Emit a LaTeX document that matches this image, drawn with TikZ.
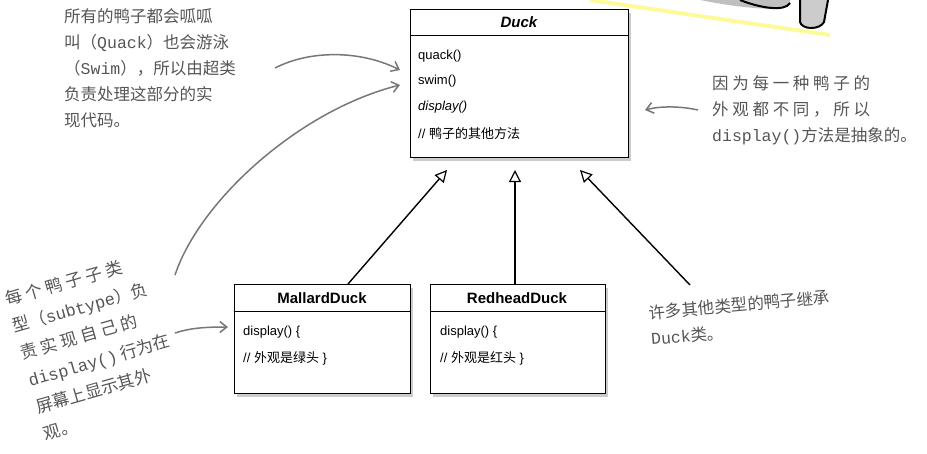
\documentclass[tikz,border=0pt]{standalone}
\usepackage{fontspec}
\setmainfont{Liberation Sans}
\newfontfamily\cjk{Noto Sans CJK SC}
\newfontfamily\mono{Liberation Mono}
\usetikzlibrary{arrows.meta,shadows}
\definecolor{note}{RGB}{85,85,85}
\tikzset{
 cls/.style={draw=black,fill=white,line width=1pt,drop shadow={shadow xshift=3pt,shadow yshift=-4pt,opacity=0.4}},
 ntxt/.style={text=note,font=\cjk\fontsize{16.5}{26}\selectfont,align=left,inner sep=0pt},
 mtxt/.style={font=\fontsize{13}{15}\selectfont,anchor=west,inner sep=0pt},
 gen/.style={line width=1.4pt,-{Triangle[open,length=12pt,width=12pt,line width=1.2pt]}},
 nar/.style={draw=note!80,line width=1.5pt,-{Straight Barb[length=7pt,width=11pt]}}
}
\begin{document}
\begin{tikzpicture}[x=1pt,y=-1pt]
\useasboundingbox (0,0) rectangle (927,453);
% sketch top right
\draw[yellow!40,line width=4pt] (590,0) -- (830,35);
\fill[gray!50] (700,0) .. controls (740,8) and (780,12) .. (790,5) -- (790,0) -- cycle;
\draw[black,line width=2pt] (740,0) .. controls (760,8) and (785,12) .. (790,3);
\fill[gray!40,draw=black,line width=2pt] (800,0) -- (800,22) .. controls (802,30) and (820,30) .. (824,22) -- (828,0);
% Duck
\draw[cls] (410,9) rectangle (628,157);
\draw[line width=1pt] (410,35) -- (628,35);
\node[font=\bfseries\itshape\fontsize{15}{17}\selectfont] (duck) at (519,22) {Duck};
\node[mtxt] (q) at (418,56) {quack()};
\node[mtxt] (s) at (418,81) {swim()};
\node[mtxt,font=\itshape\fontsize{13}{15}\selectfont] (d) at (418,107) {display()};
\node[mtxt] (o) at (418,134) {// {\cjk 鸭子的其他方法}};
\coordinate (t1) at (447,170); \coordinate (t2) at (515,170); \coordinate (t3) at (580,170);
% Mallard
\draw[cls] (234,284) rectangle (410,393);
\draw[line width=1pt] (234,311) -- (410,311);
\node[font=\bfseries\fontsize{15}{17}\selectfont] (m) at (322,298) {MallardDuck};
\node[mtxt] (m1) at (243,332) {display() \{};
\node[mtxt] (m2) at (243,358) {// {\cjk 外观是绿头} \}};
% Redhead
\draw[cls] (430,284) rectangle (605,393);
\draw[line width=1pt] (430,311) -- (605,311);
\node[font=\bfseries\fontsize{15}{17}\selectfont] (r) at (517,298) {RedheadDuck};
\node[mtxt] (r1) at (440,332) {display() \{};
\node[mtxt] (r2) at (440,358) {// {\cjk 外观是红头} \}};
\coordinate (mt) at (348,284); \coordinate (rt) at (515,284); \coordinate (ot) at (690,285);
\draw[gen] (mt) -- (t1);
\draw[gen] (rt) -- (t2);
\draw[gen] (ot) -- (t3);
% notes
\node[ntxt,anchor=north west] (n1) at (64,8) {所有的鸭子都会呱呱\\叫（{\mono Quack}）也会游泳\\（{\mono Swim}），所以由超类\\负责处理这部分的实\\现代码。};
\node[ntxt,anchor=north west] (n2) at (712,75) {因 为 每 一 种 鸭 子 的\\外 观 都 不 同 ， 所 以\\{\mono display()}方法是抽象的。};
\node[ntxt,anchor=north west,rotate=16,font=\cjk\fontsize{17}{28}\selectfont] (n3) at (3,292) {每 个 鸭 子 子 类\\型（{\mono subtype}）负\\责 实 现 自 己 的\\{\mono display()} 行为在\\屏幕上显示其外\\观。};
\node[ntxt,anchor=north west,rotate=5] (n4) at (648,305) {许多其他类型的鸭子继承\\{\mono Duck}类。};
\coordinate (a1s) at (275,68); \coordinate (a1e) at (400,70);
\coordinate (a2s) at (175,275); \coordinate (a2e) at (400,85);
\coordinate (a3s) at (698,110); \coordinate (a3e) at (645,110);
\coordinate (a4s) at (175,333); \coordinate (a4e) at (228,327);
\draw[nar] (a1s) .. controls (310,50) and (360,50) .. (a1e);
\draw[nar] (a2s) .. controls (200,200) and (300,110) .. (a2e);
\draw[nar] (a3s) .. controls (680,106) and (660,106) .. (a3e);
\draw[nar] (a4s) .. controls (190,328) and (205,327) .. (a4e);
\end{tikzpicture}
\end{document}
